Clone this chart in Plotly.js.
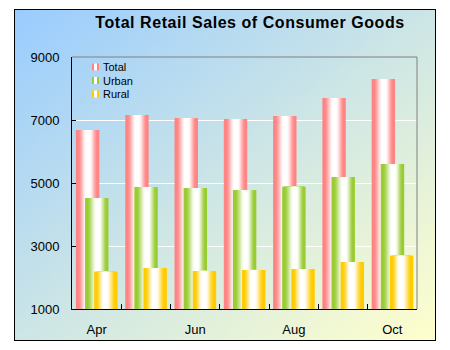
<!DOCTYPE html>
<html>
<head>
<meta charset="utf-8">
<script src="https://cdn.plot.ly/plotly-3.0.1.min.js"></script>
<style>
  html, body { margin: 0; padding: 0; background: #ffffff; }
  #frame {
    position: absolute; left: 14px; top: 9px; width: 420px; height: 330px;
    border: 1px solid #000;
    background: linear-gradient(to bottom right, #99CCFF 0%, #CCE5E6 50%, #FFFFCC 100%);
  }
  #chart { position: absolute; left: 0; top: 0; width: 450px; height: 350px; }
  .gtitle { letter-spacing: 0.55px; }
</style>
</head>
<body>
<div id="frame"></div>
<div id="chart"></div>
<script>
// ---- data ----
const months = ['Apr', 'May', 'Jun', 'Jul', 'Aug', 'Sep', 'Oct'];
const tickLabels = ['Apr', '', 'Jun', '', 'Aug', '', 'Oct'];
const yTicks = [1000, 3000, 5000, 7000, 9000];
const seriesNames = ['Total', 'Urban', 'Rural'];
const total = [6680, 7160, 7060, 7030, 7130, 7700, 8300];
const urban = [4520, 4870, 4840, 4780, 4880, 5190, 5600];
const rural = [2180, 2300, 2210, 2240, 2270, 2490, 2690];

// ---- styling ----
const seriesValues = [total, urban, rural];
const seriesColors = [[255, 132, 132], [153, 204, 51], [255, 204, 0]];
const seriesOffsets = [-0.42, -0.235, -0.05];
const barWidth = 0.475;
const peak = [0.52, 0.55, 0.47];
const LAYERS = 14;

function mixWhite(c, w) {
  return 'rgb(' + c.map(v => Math.round(v + (255 - v) * w)).join(',') + ')';
}
function smooth(a, b, x) {
  const t = Math.min(1, Math.max(0, (x - a) / (b - a)));
  return t * t * (3 - 2 * t);
}

const traces = [];
seriesValues.forEach((vals, s) => {
  for (let k = 0; k < LAYERS; k++) {
    const e = k / LAYERS;
    const w = smooth(0.12, 0.85, e);
    const left = seriesOffsets[s] + barWidth * peak[s] * e;
    const right = seriesOffsets[s] + barWidth * (1 - (1 - peak[s]) * e);
    traces.push({
      type: 'bar',
      x: months,
      y: vals,
      name: seriesNames[s],
      offset: left,
      width: right - left,
      marker: { color: mixWhite(seriesColors[s], w), line: { width: 0 } },
      showlegend: false,
      hoverinfo: 'skip'
    });
  }
});

// ---- layout helpers ----
const W = 450, H = 350;
const M = { l: 72, r: 33, t: 57, b: 41 };
const pw = W - M.l - M.r, ph = H - M.t - M.b;
const px = x => (x - M.l) / pw;
const py = y => (H - M.b - y) / ph;

const shapes = [
  { type: 'line', xref: 'paper', yref: 'paper', x0: 0, x1: 1, y0: 1, y1: 1, line: { color: '#808080', width: 1 } },
  { type: 'line', xref: 'paper', yref: 'paper', x0: 1, x1: 1, y0: 0, y1: 1, line: { color: '#808080', width: 1 } }
];
const annotations = [];
const legendRows = [67, 80.5, 94];
seriesNames.forEach((n, s) => {
  const yc = legendRows[s];
  shapes.push({ type: 'rect', xref: 'paper', yref: 'paper', layer: 'above',
    x0: px(92), x1: px(99), y0: py(yc + 3.5), y1: py(yc - 3.5),
    fillcolor: mixWhite(seriesColors[s], 0), line: { width: 0 } });
  shapes.push({ type: 'rect', xref: 'paper', yref: 'paper', layer: 'above',
    x0: px(94), x1: px(97), y0: py(yc + 3.5), y1: py(yc - 3.5),
    fillcolor: '#ffffff', line: { width: 0 } });
  annotations.push({ text: n, xref: 'paper', yref: 'paper', x: px(101), y: py(yc),
    xanchor: 'left', yanchor: 'middle', showarrow: false,
    font: { family: 'Liberation Sans, Arial, sans-serif', size: 11, color: '#000' } });
});

const layout = {
  width: W, height: H,
  margin: M,
  paper_bgcolor: 'rgba(0,0,0,0)',
  plot_bgcolor: 'rgba(0,0,0,0)',
  barmode: 'overlay',
  showlegend: false,
  font: { family: 'Liberation Sans, Arial, sans-serif', size: 13, color: '#000' },
  title: {
    text: 'Total Retail Sales of Consumer Goods',
    font: { family: 'Liberation Sans, Arial, sans-serif', size: 16, color: '#000', weight: 'bold' },
    xref: 'container', yref: 'container', x: 250 / W, y: 1 - 22.7 / H,
    xanchor: 'center', yanchor: 'middle'
  },
  xaxis: {
    type: 'category',
    categoryorder: 'array', categoryarray: months,
    tickmode: 'array', tickvals: months, ticktext: tickLabels,
    tickson: 'boundaries',
    ticks: 'inside', ticklen: 5, tickcolor: '#000', tickwidth: 1,
    showline: true, linecolor: '#000', linewidth: 1,
    showgrid: false, zeroline: false,
    range: [-0.5, months.length - 0.5],
    ticklabelstandoff: 8,
    fixedrange: true
  },
  yaxis: {
    range: [1000, 9000],
    tickmode: 'array', tickvals: yTicks,
    ticktext: yTicks.map(String),
    ticks: 'inside', ticklen: 4, tickcolor: '#000', tickwidth: 1,
    showline: true, linecolor: '#000', linewidth: 1,
    showgrid: true, gridcolor: '#ffffff', gridwidth: 1,
    zeroline: false,
    ticklabelstandoff: 9,
    fixedrange: true
  },
  shapes: shapes,
  annotations: annotations
};

Plotly.newPlot('chart', traces, layout, { displayModeBar: false, staticPlot: true });
</script>
</body>
</html>
